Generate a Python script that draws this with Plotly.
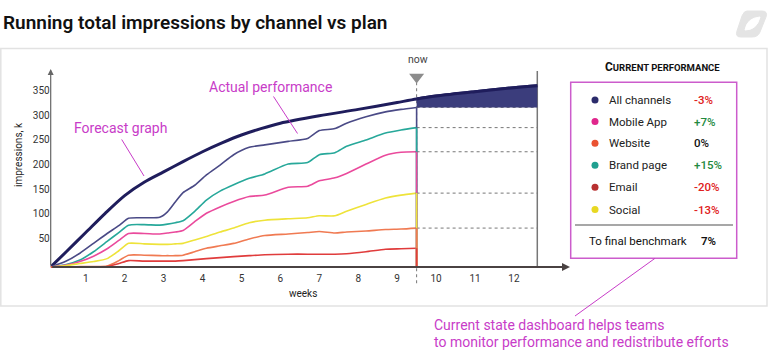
import plotly.graph_objects as go

# ---------------- data ----------------
WEEKS = [0.1, 0.5, 0.85, 1.2, 1.55, 1.85, 2.1, 2.5, 2.9, 3.1, 3.3, 3.5, 3.8, 4.1,
         4.45, 4.8, 5.2, 5.6, 6.2, 6.7, 7.0, 7.4, 7.7, 8.2, 8.7, 9.1, 9.5]
ALL_CHANNELS = [0, 12, 28, 48, 68, 84, 99, 100, 101, 112, 132, 151, 166, 187,
                207, 228, 243, 248, 255, 261, 277, 281, 292, 305, 315, 320, 324]
BRAND_PAGE = [0, 5, 14, 31, 52, 70, 85, 86, 85, 87, 90, 94, 113, 136,
              154, 167, 180, 189, 209, 212, 228, 232, 245, 258, 272, 278, 283]
MOBILE_APP = [0, 4, 11, 22, 37, 54, 68, 68, 67, 69, 71, 74, 92, 109,
              122, 133, 143, 146, 162, 164, 175, 181, 190, 209, 227, 233, 234]
SOCIAL = [0, 3, 7, 11, 17, 33, 48, 47, 46, 46, 47, 48, 55, 62,
          71, 79, 90, 95, 98, 100, 104, 104, 113, 127, 140, 146, 150]
WEBSITE = [0, 0, 1, 1, 2, 13, 24, 24, 23, 23, 23, 24, 31, 38,
           43, 48, 57, 64, 67, 70, 72, 69, 71, 73, 76, 77, 79]
EMAIL = [0, 0, 0, 0, 1, 7, 13, 12, 12, 12, 12, 13, 15, 17,
         19, 21, 23, 25, 26, 26, 26, 26, 27, 31, 36, 37, 38]

FORECAST_WEEKS = [0.1, 0.5, 1, 1.5, 2, 2.5, 3, 3.5, 4, 4.5, 5, 5.5, 6, 7, 8, 9,
                  9.5, 10, 11, 12, 12.6]
FORECAST = [0, 31, 70, 109, 145, 172, 193, 214, 234, 252, 268, 281, 292, 307,
            320, 334, 341, 347, 356, 364, 368]

NOW_WEEK = 9.5
END_WEEK = 12.6
X_TICKS = list(range(1, 13))
Y_TICKS = [50, 100, 150, 200, 250, 300, 350]

LEGEND_NAMES = ["All channels", "Mobile App", "Website", "Brand page", "Email", "Social"]
LEGEND_CHANGE = ["-3%", "+7%", "0%", "+15%", "-20%", "-13%"]
BENCHMARK_LABEL = "To final benchmark"
BENCHMARK_VALUE = "7%"

# ---------------- style ----------------
W, H = 768, 355
FONT = "Roboto"
MAGENTA = "#c83cc8"
C_FORECAST = "#1f1d5c"
C_ALL = "#4a4a86"
C_BRAND = "#27a89a"
C_MOBILE = "#ea4a9c"
C_SOCIAL = "#eee33a"
C_WEBSITE = "#f07a52"
C_EMAIL = "#e03c3c"
DOT_COLORS = ["#2b2b6b", "#e0268c", "#ea5232", "#20a090", "#b83030", "#e8d822"]


def PX(x):
    return x / W


def PY(y):
    return 1 - y / H


series = [
    (ALL_CHANNELS, C_ALL, True),
    (BRAND_PAGE, C_BRAND, True),
    (MOBILE_APP, C_MOBILE, True),
    (SOCIAL, C_SOCIAL, True),
    (WEBSITE, C_WEBSITE, True),
    (EMAIL, C_EMAIL, False),
]

fig = go.Figure()

# forecast curve
fig.add_trace(go.Scatter(x=FORECAST_WEEKS, y=FORECAST, mode="lines",
                         line=dict(color=C_FORECAST, width=3, shape="spline", smoothing=0.8),
                         hoverinfo="skip"))

# gap between plan and actual after "now"
fx = [w for w in FORECAST_WEEKS if w >= NOW_WEEK]
fy = [v for w, v in zip(FORECAST_WEEKS, FORECAST) if w >= NOW_WEEK]
fig.add_trace(go.Scatter(x=fx + [END_WEEK, NOW_WEEK], y=fy + [ALL_CHANNELS[-1], ALL_CHANNELS[-1]],
                         mode="lines", fill="toself", fillcolor="#3b3d7c",
                         line=dict(width=0, color="#3b3d7c"), hoverinfo="skip"))
fig.add_trace(go.Scatter(x=fx, y=fy, mode="lines",
                         line=dict(color=C_FORECAST, width=3, shape="spline"), hoverinfo="skip"))

# actual series
for vals, col, _ in series:
    fig.add_trace(go.Scatter(x=WEEKS, y=vals, mode="lines",
                             line=dict(color=col, width=1.6, shape="spline", smoothing=0.6),
                             hoverinfo="skip"))
for vals, col, _ in series:
    fig.add_trace(go.Scatter(x=[NOW_WEEK, NOW_WEEK], y=[vals[-1], 0], mode="lines",
                             line=dict(color=col, width=1.6), hoverinfo="skip"))

# now marker triangle
fig.add_trace(go.Scatter(x=[NOW_WEEK], y=[386], mode="markers",
                         marker=dict(symbol="triangle-down", size=13, color="#8c8c8c"),
                         cliponaxis=False, hoverinfo="skip"))

shapes = []
# panel border
shapes.append(dict(type="rect", xref="paper", yref="paper", x0=PX(0.8), x1=PX(767), y0=PY(306),
                   y1=PY(48.5), line=dict(color="#e2e2e2", width=1.5), layer="below"))
# now line
shapes.append(dict(type="line", xref="x", yref="y", x0=NOW_WEEK, x1=NOW_WEEK, y0=-33, y1=376,
                   line=dict(color="#777", width=1, dash="dot"), layer="below"))
# end line
shapes.append(dict(type="line", xref="x", yref="y", x0=END_WEEK, x1=END_WEEK, y0=0, y1=398,
                   line=dict(color="#777", width=1.5), layer="below"))
# dotted benchmark lines
for vals, col, dotted in series:
    if dotted:
        shapes.append(dict(type="line", xref="x", yref="y", x0=NOW_WEEK, x1=END_WEEK,
                           y0=vals[-1], y1=vals[-1],
                           line=dict(color="#777", width=1, dash="dot"), layer="below"))

# legend box
BX0, BX1, BY0, BY1 = 570.7, 736.7, 82.3, 258.3
shapes.append(dict(type="rect", xref="paper", yref="paper", x0=PX(BX0), x1=PX(BX1),
                   y0=PY(BY1), y1=PY(BY0), line=dict(color="#cc5ccc", width=1.5)))
shapes.append(dict(type="line", xref="paper", yref="paper", x0=PX(575), x1=PX(733),
                   y0=PY(225), y1=PY(225), line=dict(color="#8a8a8a", width=1.5)))
row_y = [100, 121.5, 143.3, 165.3, 187.3, 209.5]
for yy, c in zip(row_y, DOT_COLORS):
    shapes.append(dict(type="circle", xref="paper", yref="paper", x0=PX(591.5), x1=PX(598.5),
                       y0=PY(yy + 3.5), y1=PY(yy - 3.5), fillcolor=c, line=dict(width=0)))

# leader lines
shapes.append(dict(type="line", xref="paper", yref="paper", x0=PX(121.7), y0=PY(139.5),
                   x1=PX(144), y1=PY(176), line=dict(color=MAGENTA, width=1)))
shapes.append(dict(type="line", xref="paper", yref="paper", x0=PX(273.5), y0=PY(96.5),
                   x1=PX(297.5), y1=PY(133.5), line=dict(color=MAGENTA, width=1)))
shapes.append(dict(type="line", xref="paper", yref="paper", x0=PX(575), y0=PY(316),
                   x1=PX(655), y1=PY(258.3), line=dict(color=MAGENTA, width=1)))


# logo
def lp(x, y):
    return f"{PX(x):.5f}", f"{PY(y):.5f}"


path = ("M {} {} ".format(*lp(747, 11)) + "L {} {} ".format(*lp(762, 11)) +
        "Q {} {} {} {} ".format(*lp(768, 11), *lp(766, 17)) +
        "L {} {} ".format(*lp(760, 32)) +
        "Q {} {} {} {} ".format(*lp(758, 37), *lp(752, 37)) +
        "L {} {} ".format(*lp(741, 37)) +
        "Q {} {} {} {} ".format(*lp(735, 37), *lp(737, 31)) +
        "L {} {} ".format(*lp(742, 16)) +
        "Q {} {} {} {} Z".format(*lp(744, 11), *lp(747, 11)))
shapes.append(dict(type="path", xref="paper", yref="paper", path=path,
                   fillcolor="#e4e4e4", line=dict(color="#e4e4e4", width=1)))
inner = ("M {} {} ".format(*lp(745, 30)) +
         "Q {} {} {} {} ".format(*lp(747, 18), *lp(760, 17)) +
         "Q {} {} {} {} Z".format(*lp(757, 30), *lp(745, 30)))
shapes.append(dict(type="path", xref="paper", yref="paper", path=inner,
                   fillcolor="white", line=dict(color="white", width=1)))

ann = []


def text(x, y, s, size=11, color="#222", xanchor="left", weight=None, **kw):
    d = dict(xref="paper", yref="paper", x=PX(x), y=PY(y), text=s, showarrow=False,
             xanchor=xanchor, yanchor="middle",
             font=dict(family=FONT, size=size, color=color))
    if weight:
        d["font"]["weight"] = weight
    d.update(kw)
    ann.append(d)


text(1, 22, "Running total impressions by channel vs plan", size=19, color="#111", weight=600)
text(72, 128, "Forecast graph", size=14, color=MAGENTA)
text(207, 87, "Actual performance", size=14, color=MAGENTA)
text(432, 325, "Current state dashboard helps teams", size=14, color=MAGENTA)
text(432, 342, "to monitor performance and redistribute efforts", size=14, color=MAGENTA)
text(417.5, 59.5, "now", size=10.5, color="#444", xanchor="center")
text(303, 293, "weeks", size=10, color="#222", xanchor="center")
text(18, 155, "impressions, k", size=10, color="#222", xanchor="center", textangle=-90)
text(662, 67.5, "<b>C<span style='font-size:9.5px'>URRENT PERFORMANCE</span></b>",
     size=12, color="#111", xanchor="center")

for yy, name, ch in zip(row_y, LEGEND_NAMES, LEGEND_CHANGE):
    text(607, yy, name, size=11.5, color="#222")
    col = "#e02020" if ch.startswith("-") else ("#238a3e" if ch.startswith("+") else "#111")
    text(691.5, yy, ch, size=11.5, color=col, weight=500)
text(587, 241, BENCHMARK_LABEL, size=11.5, color="#111")
text(698.5, 241, BENCHMARK_VALUE, size=11.5, color="#111", weight=600)

# axis arrows
ann.append(dict(xref="x", yref="y", axref="x", ayref="y", x=0.1, y=402, ax=0.1, ay=0,
                text="", showarrow=True, arrowhead=2, arrowsize=1, arrowwidth=1.2,
                arrowcolor="#666"))
ann.append(dict(xref="x", yref="y", axref="x", ayref="y", x=13.44, y=0, ax=0.1, ay=0,
                text="", showarrow=True, arrowhead=2, arrowsize=0.8, arrowwidth=2,
                arrowcolor="#4a4242"))

fig.update_layout(
    width=W, height=H, margin=dict(l=0, r=0, t=0, b=0),
    paper_bgcolor="white", plot_bgcolor="rgba(0,0,0,0)", showlegend=False,
    font=dict(family=FONT),
    xaxis=dict(domain=[PX(50.7), PX(570)], range=[0.1, 13.44], anchor="free",
               position=PY(267), showgrid=False, zeroline=False, showline=False,
               tickvals=X_TICKS, ticks="", ticklabelstandoff=4,
               tickfont=dict(size=10, color="#333", family=FONT),
               fixedrange=True),
    yaxis=dict(domain=[PY(286.7), PY(69)], range=[-40, 402], showgrid=False,
               zeroline=False, showline=False, tickvals=Y_TICKS, ticks="",
               tickfont=dict(size=10, color="#333", family=FONT), ticklabelshift=-4,
               fixedrange=True),
    shapes=shapes, annotations=ann,
)

fig.write_html("out.html", config={"displayModeBar": False},
               post_script="document.body.style.margin='0';document.body.style.padding='0';"
                           "document.body.style.overflow='hidden';")
